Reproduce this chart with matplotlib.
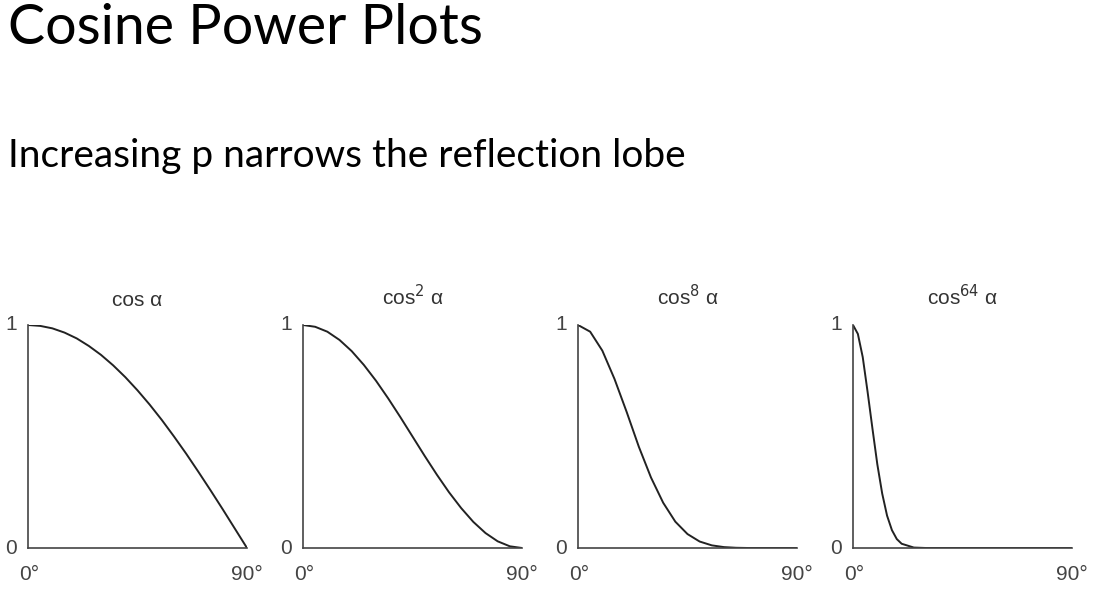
import matplotlib
matplotlib.use("Agg")
import matplotlib.pyplot as plt

angles = [0, 5, 10, 15, 20, 25, 30, 35, 40, 45, 50, 55, 60, 65, 70, 75, 80, 85, 90]
cos1 = [1, .996, .985, .966, .94, .906, .866, .819, .766, .707, .643, .574, .5, .423, .342, .259, .174, .087, 0]
cos2 = [1, .992, .97, .933, .883, .821, .75, .671, .587, .5, .413, .329, .25, .179, .117, .067, .03, .0076, 0]
cos8 = [1, .97, .885, .758, .61, .454, .316, .203, .118, .0625, .029, .0118, .004, .001, 0, 0, 0, 0, 0]
angles64 = [0, 2, 4, 6, 8, 10, 12, 14, 16, 18, 20, 25, 30, 90]
cos64 = [1, .96, .856, .70, .535, .375, .244, .145, .08, .04, .019, .002, 0, 0]

titles = ["cos α", "cos$^{2}$ α", "cos$^{8}$ α", "cos$^{64}$ α"]
series = [(angles, cos1), (angles, cos2), (angles, cos8), (angles64, cos64)]
lefts = [28, 303, 578, 853]

fig = plt.figure(figsize=(10.93, 6.06), dpi=100)
fig.text(8/1093, 1-28/606, "Cosine Power Plots", fontsize=40, family="Lato", va="center", ha="left")
fig.text(8/1093, 1-156/606, "Increasing p narrows the reflection lobe", fontsize=28, family="Lato", va="center", ha="left")

for l, t, (x, y) in zip(lefts, titles, series):
    ax = fig.add_axes([l/1093, 1-548/606, 219/1093, 223/606])
    ax.plot(x, y, color="#222222", lw=1.4)
    ax.set_xlim(0, 90)
    ax.set_ylim(0, 1)
    for s in ["top", "right"]:
        ax.spines[s].set_visible(False)
    for s in ["left", "bottom"]:
        ax.spines[s].set_color("#444444")
        ax.spines[s].set_linewidth(1.2)
    ax.set_xticks([]); ax.set_yticks([])
    ax.set_title(t, fontsize=15, color="#333333", pad=14, family="Liberation Sans")
    kw = dict(fontsize=15, color="#444444", family="Liberation Sans", transform=ax.transAxes)
    ax.text(-0.05, 1.0, "1", ha="right", va="center", **kw)
    ax.text(-0.05, 0.0, "0", ha="right", va="center", **kw)
    ax.text(-0.04, -0.075, "0°", ha="left", va="top", **kw)
    ax.text(1.0, -0.075, "90°", ha="center", va="top", **kw)

fig.savefig("out.png", dpi=100)
